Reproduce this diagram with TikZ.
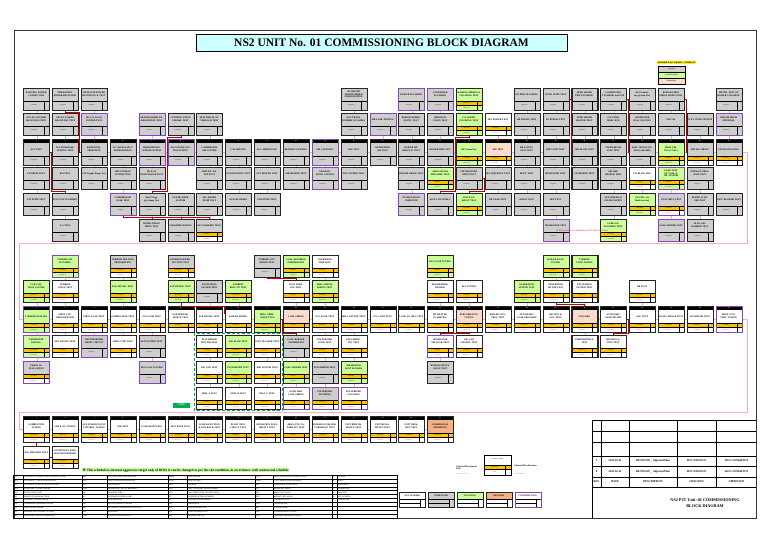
\documentclass[tikz,border=0pt]{standalone}
\usepackage{fontspec}
\setmainfont{Liberation Serif}
\newfontfamily\dv{DejaVu Sans}
\usetikzlibrary{calc}
\definecolor{gfill}{HTML}{CECECE}
\definecolor{grn}{HTML}{CCFF99}
\definecolor{org}{HTML}{FFC000}
\definecolor{sal}{HTML}{FADCCF}
\definecolor{salD}{HTML}{F4B183}
\definecolor{pur}{HTML}{8048B8}
\definecolor{pinkl}{HTML}{F6AFBE}
\definecolor{crit}{HTML}{C00000}
\definecolor{ttl}{HTML}{CCFFFF}
\definecolor{ngrn}{HTML}{00B050}
\colorlet{k}{black!85}
\def\tfD{gfill}\def\raD{gfill}\def\rbD{gfill}\def\tcD{black}
\def\tfP{grn}\def\raP{org}\def\rbP{grn}\def\tcP{black}
\def\tfT{white}\def\raT{org}\def\rbT{white}\def\tcT{red}
\def\tfL{sal}\def\raL{org}\def\rbL{white}\def\tcL{red}
\def\tfS{gfill}\def\raS{org}\def\rbS{white}\def\tcS{red}
\def\tfC{salD}\def\raC{org}\def\rbC{white}\def\tcC{red}
\tikzset{
  pc/.style={draw=pinkl, line width=0.5pt},
  crit/.style={draw=crit, line width=1pt},
  bt/.style={font=\fontsize{2.3}{2.6}\selectfont\bfseries, text width=24.5pt, align=center, inner sep=0pt},
  st/.style={font=\fontsize{1.4}{1.6}\selectfont, inner sep=0pt},
  hdr/.style={font=\fontsize{1.8}{2}\selectfont\bfseries, text=white, inner sep=0pt},
  tb/.style={font=\fontsize{1.9}{2.1}\selectfont, inner sep=0pt, anchor=west},
  tbk/.style={font=\fontsize{2.8}{3.2}\selectfont\bfseries, inner sep=0pt},
}
% block: name, col, ytop, header(0/1), kind, border, text
\newcommand\blk[7]{%
  \pgfmathsetmacro\bx{23.3+28.85*#2}%
  \pgfmathsetmacro\hh{4*#4}%
  \pgfmathsetmacro\ty{#3+\hh}%
  \pgfmathsetmacro\bh{22+\hh}%
  \edef\ftf{\csname tf#5\endcsname}\edef\fra{\csname ra#5\endcsname}%
  \edef\frb{\csname rb#5\endcsname}\edef\ftc{\csname tc#5\endcsname}%
  \fill[fill=\ftf] (\bx,\ty) rectangle ++(26,13);
  \fill[fill=\fra] (\bx,\ty+13) rectangle ++(26,4.5);
  \fill[fill=\frb] (\bx,\ty+17.5) rectangle ++(26,4.5);
  \ifnum#4=1
    \pgfmathtruncatemacro\hn{#2+1}%
    \fill[black] (\bx,#3) rectangle ++(26,4);
    \node[hdr] at (\bx+13,#3+2) {\hn};
  \fi
  \draw[line width=0.4pt] (\bx,\ty+13) -- ++(26,0) (\bx+21,\ty+13) -- ++(0,9);
  \if#5D
    \node[st] at (\bx+10.5,\ty+17.5) {Completed};
  \else
    \draw[line width=0.25pt] (\bx,\ty+17.5) -- ++(26,0);
    \node[st] at (\bx+10.5,\ty+15.25) {2021.04.05};
    \node[st,text=\ftc] at (\bx+10.5,\ty+19.75) {2021.04.12};
  \fi
  \node[bt] at (\bx+13,\ty+6.5) {#7};
  \node[draw=#6, line width=1.05pt, minimum width=26pt, minimum height=\bh pt, inner sep=0pt, anchor=north west] (#1) at (\bx,#3) {};
}
\newcommand\vlink[3]{\foreach \r [remember=\r as \lr (initially X)] in {#3}{\if X\lr\else\draw[pc] (#1\lr#2) -- (#1\r#2);\fi}}
\begin{document}
\begin{tikzpicture}[x=1pt,y=-1pt]
\useasboundingbox (0,0) rectangle (768,543);
\fill[white] (0,0) rectangle (768,543);
\draw[line width=1pt, black!80] (14,31) rectangle (756,518);
\node[draw, line width=0.9pt, fill=ttl, minimum width=371pt, minimum height=17pt, inner sep=0pt,
  font=\fontsize{11.5}{12}\selectfont\bfseries] (title) at (381.5,42.5) {NS2 UNIT No. 01 COMMISSIONING BLOCK DIAGRAM};
% update legend
\node[fill=yellow, font=\fontsize{2.6}{3}\selectfont\bfseries, inner sep=0.6pt, anchor=west] (upd) at (657,62.5) {Schedule Last Update : 22.Mar.21};
\node[draw, line width=0.6pt, fill=gfill, minimum width=27pt, minimum height=6pt, inner sep=0pt, font=\fontsize{2}{2.2}\selectfont] (lg1) at (671.5,69) {Schedule};
\node[draw, line width=0.6pt, fill=grn, minimum width=27pt, minimum height=6pt, inner sep=0pt, font=\fontsize{2}{2.2}\selectfont] (lg2) at (671.5,75) {Actual Progress};
\node[draw, line width=0.6pt, fill=sal, minimum width=27pt, minimum height=6pt, inner sep=0pt, font=\fontsize{2}{2.2}\selectfont] (lg3) at (671.5,81) {Remaining};
%================ TOP SECTION
\foreach \c/\kd/\bd/\tx in {0/D/k/{EXISTING POWER CONNECTION},1/D/k/{PERMANENT POWER RECEIVING},2/D/k/{SWYD FOR POWER RECEIVING \& TEST},
 11/D/k/{AUXILIARY TRANSFORMER ENERGIZATION},13/D/pur/{BOILER FLUSHING},14/D/pur/{CONDENSER FLUSHING},15/P/k/{BOILER CHEMICAL CLEANING TEST},
 17/D/k/{FW PIPE FLUSHING},18/D/k/{COND. PUMP TEST},19/D/k/{FEED WATER PIPE FLUSHING},20/D/k/{CONDENSATE FLUSHING and CPP},
 21/D/k/{ACS Preheating System Test},22/D/k/{BOILER FIRST PHASE INSPECTION},24/D/k/{INITIAL TEST OF BOILER CLEANING}}
 {\blk{tA\c}{\c}{88}{0}{\kd}{\bd}{\tx}}
\foreach \c/\kd/\bd/\tx in {0/D/k/{ACS DCS POWER RECEIVING TEST},1/D/k/{UPS DC POWER RECEIVING TEST},2/D/pur/{MCC \& LOAD CENTER TEST},
 4/D/pur/{TRANSFORMER ENERGIZATION TEST},5/D/k/{CONTROL VALVE STROKE TEST},6/D/k/{ELECTRICAL INTERLOCK TEST},
 11/D/k/{AUX TRANSFORMER FLUSHING},12/D/pur/{AIR LEAK TESTING},13/D/k/{BOILER HYDROSTATIC TEST},14/D/k/{CHEMICAL CLEAN TEST},
 15/P/k/{CW SERIES FLUSHING TEST},16/T/k/{APS POWER TEST},17/D/k/{HP BYPASS TEST},18/D/k/{LP BYPASS TEST},19/D/k/{FEED WATER HEATER TEST},
 20/D/k/{CW PUMP TRIAL RUN},21/D/k/{GENERATOR SEAL OIL TEST},22/D/k/{ESP Test},23/D/k/{CCTV CEMS SYSTEM},24/D/pur/{BOILER DRUM INTERNAL}}
 {\blk{tB\c}{\c}{113}{0}{\kd}{\bd}{\tx}}
\foreach \c/\kd/\bd/\tx in {0/D/k/{ACS TEST},1/D/k/{ACS POWER RECEIVING TEST},2/D/k/{POWER DISTRIBUTION},3/D/k/{LV SWGR \& MCC ENERGIZATION},
 4/D/pur/{FIREFIGHTING WATER SYSTEM},5/D/pur/{AUX STEAM SYSTEM SUPPLY},6/D/k/{COMPRESSED AIR SYSTEM},7/D/k/{C/W SERVICE},8/D/k/{No.1 ADDITIONAL},
 9/D/k/{BOILER CLEANING},10/D/pur/{AIR CLEANING},11/D/k/{FAN TEST},12/D/k/{GENERATOR AIR TEST},13/D/k/{BOILER HYDRAULIC TEST},
 14/D/k/{BOILER BOIL-OUT},15/P/k/{HP Steam Test},16/L/k/{APS TEST},17/D/k/{HP \& IP BYPASS TEST},18/D/k/{BFP LOOP TEST},19/D/k/{AIR BLOW TEST},
 20/D/k/{STEAM BLOW LINE TEST},21/D/k/{SEAL STEAM SYSTEM (with BFP)},22/P/k/{FIRST FIRING (COAL)},23/S/k/{INITIAL FIRING},24/S/k/{STEAM BLOWING}}
 {\blk{tC\c}{\c}{139}{1}{\kd}{\bd}{\tx}}
\foreach \c/\kd/\bd/\tx in {0/D/k/{LP DRUM TEST},1/D/k/{BSI TEST},2/D/k/{CW Supply Pump Test},3/D/k/{AIR STORAGE SYSTEM TEST},4/D/k/{HV \& LV SWITCHGEAR TEST},
 6/D/k/{SERVICE WATER TEST},7/D/k/{ACW RUNNING TEST},8/D/k/{AUX BOILER TEST},9/D/k/{AIR HEATER TEST},10/D/pur/{ASH HANDLING SYSTEM},11/D/k/{FGD SYSTEM TEST},
 13/D/k/{BOILER DRAIN TEST},14/P/k/{MAIN STEAM PRESSURE TEST},15/D/k/{CPP REGENERATION TEST},16/D/k/{APS SEQUENCE TEST},17/D/k/{BFP-T TEST},
 18/D/k/{HP HEATER TEST},19/D/k/{LP HEATER TEST},20/D/k/{AIR PREHEATER TEST},21/T/k/{CW BLOW FILL},22/P/pur/{LOAD TEST OF COAL \& OIL SYSTEM},23/D/k/{FURNACE PRESSURE TEST}}
 {\blk{tD\c}{\c}{167}{0}{\kd}{\bd}{\tx}}
\foreach \c/\kd/\bd/\tx in {0/D/k/{FW PUMP TEST},1/D/k/{ACW SCW FLUSHING},3/D/pur/{COMPRESSOR LEAK TEST},4/D/k/{NaOCl Supply Pump Test},5/D/k/{FGD BLOWER SYSTEM},
 6/D/k/{SEA WATER PUMP TEST},7/D/k/{ACW BLOWING},8/D/k/{FGD PUMP TEST},13/D/pur/{INSTALLATION COMPLETE},14/D/k/{H2 \& CO2 SUPPLY},15/P/k/{STACK EXHAUST TEST},
 16/D/k/{HP LEAK TEST},17/D/k/{DRAIN TEST},18/D/k/{BFP TEST},20/D/k/{AUX BOILER \& STEAM SUPPLY},21/P/k/{CW FILL (1st Flush Service)},
 22/S/pur/{COAL MILL TEST},23/D/k/{FLAME SCANNER TEST},24/D/k/{SOOT BLOWER TEST}}
 {\blk{tE\c}{\c}{193}{0}{\kd}{\bd}{\tx}}
\foreach \c/\kd/\bd/\tx in {1/D/k/{T-A TEST},4/D/k/{WATER TREATMENT TEST},5/D/k/{CHLORINE DOSING},6/S/k/{DCS GRAPHIC TEST},
 18/D/pur/{DEAERATOR TEST},20/P/k/{LUBE OIL FLUSHING TEST},22/D/pur/{COAL FEEDER TEST},23/D/k/{FLUE GAS DAMPER TEST}}
 {\blk{tF\c}{\c}{219}{0}{\kd}{\bd}{\tx}}
%================ MIDDLE SECTION
\foreach \c/\kd/\bd/\tx in {1/P/pur/{TURBINE OIL FLUSHING},3/S/k/{TURBINE ROLLING PREPARATION},5/S/k/{GENERATOR PROTECTION TEST},
 8/D/k/{TURBINE GOVERNOR TEST},9/P/k/{COAL BLENDING PREPARATION},10/T/k/{OVERSPEED TRIP TEST},14/P/k/{DCS LOOP TUNING},
 18/P/k/{BOILER LOOP TUNING},19/P/k/{TURBINE LOOP TUNING}}
 {\blk{mA\c}{\c}{255}{0}{\kd}{\bd}{\tx}}
\foreach \c/\kd/\bd/\tx in {0/P/k/{CCR CONTROL SYSTEM},1/T/k/{TURBINE VALVE TEST},3/P/k/{FGD INITIAL TEST},5/P/k/{ESP INITIAL TEST},
 6/D/k/{EXCITATION SYSTEM TEST},7/P/k/{TURBINE ROLL-UP TEST},9/T/k/{COAL FEEDING TEST},10/P/k/{MILL INITIAL FIRING TEST},
 14/T/k/{ENGINEERING REVIEW},15/T/k/{DCS TUNING},17/P/k/{GENERATOR STATOR TEST},18/T/k/{GENERATOR ROTOR TEST},
 19/T/k/{EXCITATION SYSTEM TEST},21/T/k/{RB TEST}}
 {\blk{mB\c}{\c}{280}{0}{\kd}{\bd}{\tx}}
\foreach \c/\kd/\bd/\tx in {0/P/pur/{TURBINE ROLLING},1/T/k/{FIRST SYNCHRONIZATION},2/T/k/{FIRST LOAD TEST},3/T/k/{COMBUSTION TEST},
 4/T/k/{25\% LOAD TEST},5/T/k/{FGD PERFORMANCE TEST},6/T/k/{ESP INITIAL TEST},7/T/k/{BOILER FIRING},8/P/k/{MILL OPERATION TEST},
 9/L/k/{COAL FIRING},10/T/k/{50\% LOAD TEST},11/T/k/{MILL SWITCH TEST},12/T/k/{75\% LOAD TEST},13/T/k/{LOAD TO 100\% TEST},
 14/T/k/{HP HEATER IN SERVICE},15/L/k/{PERFORMANCE TUNING},16/T/k/{BOILER CONTROL TEST},17/T/k/{AUTOMATIC LOAD PROGRAM},
 18/T/k/{RB TEST \& AGC TEST},19/L/k/{SYNCHRO},20/T/k/{AUXILIARY SWITCHOVER},21/T/k/{AGC TEST},22/T/k/{LOAD CHANGE TEST},
 23/T/k/{GOVERNOR TEST},24/T/pur/{FINAL CONTROL TUNING}}
 {\blk{mC\c}{\c}{306}{1}{\kd}{\bd}{\tx}}
\foreach \c/\kd/\bd/\tx in {0/P/pur/{GENERATOR INSTALL},1/T/k/{AVR INITIAL TEST},2/D/pur/{TRANSFORMER SHORT CIRCUIT},3/T/k/{GRID CODE TEST},
 4/D/k/{FGD SYSTEM TEST},6/T/k/{PULVERIZER HOT AIR TEST},7/P/k/{AIR FLOW TEST},8/T/k/{SOOT BLOWER TEST},9/D/k/{COAL BURNER CALIBRATION},
 10/T/k/{PULVERIZER LOAD TEST},11/T/k/{ESP CHARGING TEST},14/T/pur/{GENERATOR AIR LEAK TEST},15/T/k/{OIL GUN CHANGE TEST},
 19/T/k/{PERFORMANCE TEST},20/T/k/{RB SIMULATION TEST}}
 {\blk{mD\c}{\c}{335}{0}{\kd}{\bd}{\tx}}
\foreach \c/\kd/\bd/\tx in {0/S/pur/{PHASE INSTALLATION},4/D/pur/{FLUE GAS SYSTEM},6/T/k/{OIL GUN TEST},7/P/k/{PULVERIZER TEST},
 8/T/k/{ASH SYSTEM TEST},9/P/k/{COAL FEEDER TEST},10/D/k/{PULVERIZER TEST},11/P/k/{AIR HEATER SOOT BLOWER},14/D/k/{BOILER SAFETY VALVE TEST}}
 {\blk{mE\c}{\c}{361}{0}{\kd}{\bd}{\tx}}
\foreach \c/\kd/\bd/\tx in {6/T/k/{MILL A TEST},7/T/k/{MILL B TEST},8/T/k/{MILL C TEST},9/T/pur/{AUXILIARY COAL FIRING},
 10/S/pur/{PULVERIZER FLUSHING},11/T/pur/{PULVERIZER CLEANING}}
 {\blk{mF\c}{\c}{387}{0}{\kd}{\bd}{\tx}}
\draw[ngrn, densely dashed, line width=0.6pt] (194,333) rectangle (282,410.5);
\node[fill=ngrn, text=white, font=\fontsize{2.4}{2.6}\selectfont\bfseries, minimum width=17pt, minimum height=5pt, inner sep=0pt] (feed) at (181.5,405) {FEED};
%================ BOTTOM CHAIN
\foreach \c/\kd/\tx in {0/T/{COMBUSTION TUNING},1/T/{CBF \& AT TUNING},2/T/{AUX POWER PLANT CONTROL TUNING},3/T/{AVR TEST},
 4/T/{LOAD REJECTION},5/T/{RUN BACK TEST},6/T/{LOAD REJECTION \& RUN BACK TEST},7/T/{PLANT EFFICIENCY TEST},
 8/T/{OPERATION FLEXIBILITY TEST},9/T/{ABSOLUTE CAPABILITY TEST},10/T/{EMISSION FOR PERFORMANCE TEST},
 11/T/{UNIT PERFORMANCE TEST},12/T/{UNIT RELIABILITY TEST},13/T/{UNIT TRIAL RUN TEST},14/C/{COMMERCIAL OPERATION}}
 {\blk{bA\c}{\c}{416}{1}{\kd}{k}{\tx}}
\blk{bB0}{0}{446}{0}{T}{k}{NOx EMISSION TEST}
\blk{bB1}{1}{446}{0}{T}{k}{CONTINUOUS EMISSION MONITORING}
%================ CONNECTORS (pink)
\foreach \i in {0,...,23}{\pgfmathtruncatemacro\j{\i+1}\draw[pc] (tC\i) -- (tC\j); \draw[pc] (mC\i) -- (mC\j);}
\foreach \i in {0,...,13}{\pgfmathtruncatemacro\j{\i+1}\draw[pc] (bA\i) -- (bA\j);}
\vlink{t}{0}{A,B,C,D,E}\vlink{t}{1}{A,B,C,D,E,F}\vlink{t}{2}{A,B,C,D}\vlink{t}{3}{C,D,E}
\vlink{t}{4}{B,C,D,E,F}\vlink{t}{5}{B,C}\vlink{t}{5}{E,F}\vlink{t}{6}{B,C,D,E,F}\vlink{t}{7}{C,D,E}
\vlink{t}{8}{C,D,E}\vlink{t}{9}{C,D}\vlink{t}{10}{C,D}\vlink{t}{11}{A,B,C,D}\vlink{t}{12}{B,C}
\vlink{t}{13}{A,B,C,D,E}\vlink{t}{14}{A,B,C,D,E}\vlink{t}{15}{A,B,C,D,E}\vlink{t}{16}{B,C,D,E}
\vlink{t}{17}{A,B,C,D,E}\vlink{t}{18}{A,B,C,D,E,F}\vlink{t}{19}{A,B,C,D}\vlink{t}{20}{A,B,C,D,E,F}
\vlink{t}{21}{A,B,C,D,E}\vlink{t}{22}{A,B,C,D,E,F}\vlink{t}{23}{B,C,D,E,F}\vlink{t}{24}{A,B,C}
\vlink{m}{0}{B,C,D,E}\vlink{m}{1}{A,B,C,D}\vlink{m}{2}{C,D}\vlink{m}{3}{A,B,C,D}\vlink{m}{4}{C,D,E}
\vlink{m}{5}{A,B,C}\vlink{m}{6}{B,C,D,E,F}\vlink{m}{7}{B,C,D,E,F}\vlink{m}{8}{C,D,E,F}\vlink{m}{9}{A,B,C,D,E,F}
\vlink{m}{10}{A,B,C,D,E,F}\vlink{m}{11}{C,D,E,F}\vlink{m}{14}{A,B,C,D,E}\vlink{m}{15}{B,C,D}
\vlink{m}{17}{B,C}\vlink{m}{18}{A,B,C}\vlink{m}{19}{A,B,C,D}\vlink{m}{20}{C,D}\vlink{m}{21}{B,C}
\coordinate (s1) at (747,243); \coordinate (s2) at (19,243);
\coordinate (s3) at (747,412.5); \coordinate (s4) at (19,412.5);
\draw[pc] (tC24.east) -| (s1) -- (s2) |- (mC0.west);
\draw[pc] (mC24.east) -| (s3) -- (s4) |- (bA0.west);
%================ CRITICAL PATH (red)
\draw[crit] (tA1.south) -- ++(0,1.5) -| ($(tC2.west)+(-1.4,0)$) -- (tC2.west);
\draw[crit] (tC0.east) -- ++(1.4,0) |- ($(tE1.north)+(0,-1.5)$) -- (tE1.north);
\draw[crit] (tB5.south) -- ++(0,1.5) -| ($(tD4.south east)+(1.4,1.5)$) -| (tE4.north);
\draw[crit] (tE3.south) -- ++(0,1.5) -| (tF6.north);
\draw[crit] (tF4.north) -- ++(0,-2.5);
\draw[crit] (tF5.north) -- ++(0,-2.5);
\draw[crit] (tB15.south) -- ++(0,1.5) -| ($(tD14.south east)+(1.4,1.5)$) -| (tE14.north);
\draw[crit] (tD15.east) -- ++(1.4,0) |- ($(tE15.north)+(0,-1.5)$) -- (tE15.north);
\draw[crit] (tA18.east) -- ++(1.4,0) |- (tC19.west);
\draw[crit] (tA20.east) -- ++(1.4,0) |- (tC21.west);
\draw[crit] (tA22.east) -- ++(1.4,0) |- (tC23.west);
\draw[crit] (mB5.south) |- ($(mC6.north east)+(1.4,0)$) -- ++(0,8);
\draw[crit] (mA8.south) |- ($(mB9.north)+(0,-1.5)$) -- (mB9.north);
\draw[crit] (mC8.east) -- ++(1.4,0) |- ($(mD9.north)+(0,-1.5)$) -- (mD9.north);
\draw[crit] (mC15.south) |- ($(mD14.north)+(0,-1.5)$) -- (mD14.north);
\draw[crit] (mB18.south) |- ($(mC19.north)+(0,-1.5)$) -- (mC19.north);
\draw[crit] (mC20.east) -- ++(1.4,0) |- ($(mD20.north)+(0,-1.5)$) -- (mD20.north);
\draw[crit] (bA0) -- (bB0);
\draw[crit] (bB0) -- (bB1);
\node[text=red, font=\fontsize{2.4}{2.6}\selectfont, inner sep=0pt, anchor=west] (note1) at (556,231) {{\dv ※} All parameters confirmation of TV Allocation Test};
%================ NOTE + ABBREVIATION TABLE
\node[fill=grn, font=\fontsize{3.4}{3.7}\selectfont\bfseries, inner sep=0.5pt, anchor=west] (note2) at (82,470) {{\dv ※} This schedule is internal aggressive target only of DOO, it can be changed as per the site condition, in accordance with contractual schedule};
\foreach \i in {0,...,11}{\draw[line width=0.35pt] (13,475+3.9*\i) -- (397,475+3.9*\i);}
\foreach \x in {13,23,82,107,168,187,255,273,332,337,397}{\draw[line width=0.35pt] (\x,475) -- (\x,518);}
\foreach \i/\a/\d in {0/ACS/AUTOMATIC COMBUSTION CONTROL SYSTEM,1/AVR/AUTOMATIC VOLTAGE REGULATOR,2/APS/AUTOMATIC PLANT START-UP SYSTEM,
 3/ACW/AUXILIARY COOLING WATER,4/BFP/BOILER FEED PUMP,5/BSI/BOILER STEAM INSPECTION,6/CCR/CENTRAL CONTROL ROOM,
 7/CPP/CONDENSATE POLISHING PLANT,8/CW/CIRCULATING WATER,9/DCS/DISTRIBUTED CONTROL SYSTEM,10/EDG/EMERGENCY DIESEL GENERATOR}
 {\node[tb] at (13.8,476.95+3.9*\i) {\a}; \node[tb] at (23.8,476.95+3.9*\i) {\d};}
\foreach \i/\a/\d in {0/ESP/ELECTROSTATIC PRECIPITATOR,1/FGD/FLUE GAS DESULFURIZATION,2/FW/FEED WATER,3/GCB/GENERATOR CIRCUIT BREAKER,
 4/HP/HIGH PRESSURE,5/IP/INTERMEDIATE PRESSURE,6/LP/LOW PRESSURE,7/MCC/MOTOR CONTROL CENTER,8/AGC/AUTOMATIC GENERATION CONTROL,
 9/RB/RUN BACK,10/SCW/STATOR COOLING WATER}
 {\node[tb] at (82.8,476.95+3.9*\i) {\a}; \node[tb] at (107.8,476.95+3.9*\i) {\d};}
\foreach \i/\a/\d in {0/SWGR/SWITCHGEAR,1/SWYD/SWITCHYARD,2/TBN/TURBINE,3/UAT/UNIT AUXILIARY TRANSFORMER,4/UPS/UNINTERRUPTIBLE POWER SUPPLY,
 5/GT/GENERATOR TRANSFORMER,6/ST/STATION TRANSFORMER,7/AH/AIR HEATER,8/FDF/FORCED DRAFT FAN,9/IDF/INDUCED DRAFT FAN,10/PAF/PRIMARY AIR FAN}
 {\node[tb] at (168.8,476.95+3.9*\i) {\a}; \node[tb] at (187.8,476.95+3.9*\i) {\d};}
\foreach \i/\a/\d in {0/SCR/SELECTIVE CATALYTIC REDUCTION,1/CEMS/CONT. EMISSION MONITORING,2/ESV/EMERGENCY STOP VALVE,3/ICV/INTERCEPT VALVE,
 4/MSV/MAIN STOP VALVE,5/RSV/REHEAT STOP VALVE,6/CV/CONTROL VALVE,7/OFA/OVER FIRE AIR,8/SB/SOOT BLOWER,9/TDC/TURBINE DRAIN COOLER,10/VFD/VARIABLE FREQUENCY DRIVE}
 {\node[tb] at (255.8,476.95+3.9*\i) {\a}; \node[tb] at (273.8,476.95+3.9*\i) {\d};}
\foreach \i/\a/\d in {0/A/ACTUAL,1/P/PLAN,2/R/REMAINING,3/C/COMPLETED,4/D/DELAYED,5/N/NOT STARTED,6/S/SCHEDULED}
 {\node[tb] at (332.8,476.95+3.9*\i) {\a}; \node[tb] at (337.8,476.95+3.9*\i) {\d};}
%================ SAMPLE LEGEND
\fill[org] (484,465) rectangle (511,469);
\draw[line width=0.3pt] (484,465) -- (511,465) (484,469) -- (511,469) (505.5,465) -- (505.5,475);
\node[st] at (497.5,459) {ACTIVITY NAME};
\node[st] at (494.5,467) {Adjusted Plan};
\node[st,text=red] at (494.5,472) {Actual};
\node[draw, line width=0.8pt, minimum width=27pt, minimum height=20pt, inner sep=0pt, anchor=north west] (smp) at (484,455) {};
\node[font=\fontsize{2.2}{2.5}\selectfont\bfseries, align=left, inner sep=0pt, anchor=west] (lgA) at (456,467.5) {Adjusted Plan Start of\\Date};
\node[font=\fontsize{1.6}{1.8}\selectfont, text=gray, inner sep=0pt, anchor=west] (lgA2) at (456,474.5) {(Actual Start Date)};
\node[font=\fontsize{2.2}{2.5}\selectfont\bfseries, inner sep=0pt, anchor=west] (lgB) at (514,466) {Adjusted Plan Duration};
\node[font=\fontsize{1.6}{1.8}\selectfont, text=gray, inner sep=0pt, anchor=west] (lgB2) at (514,474.5) {(Actual Duration)};
%================ STATUS LEGEND
\foreach \i/\f/\g/\bd/\tx in {0/white/white/k/NOT STARTED,1/gfill/gfill/k/COMPLETED,2/grn/white/k/ON-GOING,3/salD/white/k/DELAYED,4/white/white/pur/CONSTRUCTION}{
 \pgfmathsetmacro\lx{399.3+28.85*\i}
 \fill[fill=\f] (\lx,492) rectangle ++(26,7);
 \fill[fill=\g] (\lx,499) rectangle ++(26,8);
 \draw[line width=0.3pt] (\lx,499) -- ++(26,0) (\lx,503) -- ++(21,0) (\lx+21,499) -- ++(0,8);
 \node[font=\fontsize{2.2}{2.4}\selectfont\bfseries, inner sep=0pt] at (\lx+13,495.5) {\tx};
 \node[draw=\bd, line width=0.8pt, minimum width=26pt, minimum height=15pt, inner sep=0pt, anchor=north west] (sl\i) at (\lx,492) {};
}
%================ TITLE BLOCK
\draw[line width=0.6pt] (592,420) -- (592,518);
\foreach \y in {420,431,442,456,466,477,487}{\draw[line width=0.6pt] (592,\y) -- (756,\y);}
\foreach \x in {601,629,677,716}{\draw[line width=0.6pt] (\x,420) -- (\x,487);}
\foreach \y/\a/\b/\c/\d/\e in {461/1/2021.03.24/REVISION \_ Adjusted Plan/RTC DAEDON/WOO JONGHYUN,
 471.5/0/2021.02.19/REVISION \_ Adjusted Plan/RTC DAEDON/WOO JONGHYUN,482/REV/DATE/DESCRIPTION/CHECKED/APPROVED}
 {\node[tbk] at (596.5,\y) {\a}; \node[tbk] at (615,\y) {\b}; \node[tbk] at (653,\y) {\c}; \node[tbk] at (696.5,\y) {\d}; \node[tbk] at (736.5,\y) {\e};}
\node[font=\fontsize{4.2}{6}\selectfont\bfseries, align=center, inner sep=0pt] (tbt) at (705,503.5) {NS2 PJT Unit :01 COMMISSIONING\\BLOCK DIAGRAM};
\end{tikzpicture}
\end{document}
